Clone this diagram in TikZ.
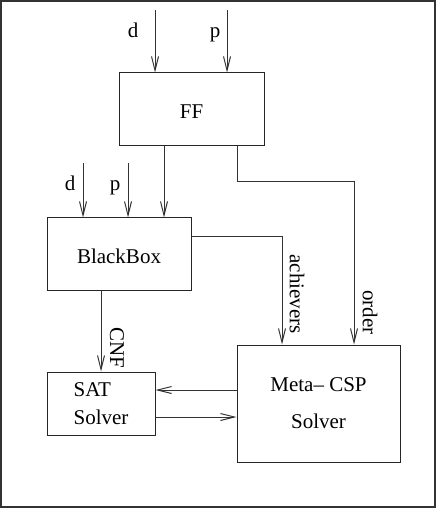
\documentclass[tikz,border=0pt]{standalone}
\usepackage{fontspec}
\setmainfont{Liberation Serif}
\usetikzlibrary{arrows.meta}
\begin{document}
\begin{tikzpicture}[x=1pt,y=-1pt,
  every node/.style={font=\fontsize{21}{28}\selectfont, inner sep=0pt},
  box/.style={draw, line width=1pt, color=black!85},
  conn/.style={line width=1pt, color=black!80},
  arr/.style={conn, -{Straight Barb[length=14pt,width=7pt]}},
  vlabel/.style={rotate=-90, text=black}]
\useasboundingbox (0,0) rectangle (438,510);
\draw[line width=2pt, black!80] (1,1) rectangle (435,507);
% boxes
\node[box, minimum width=145pt, minimum height=73pt, text=black, text height=19pt] (FF) at (191.5,109.5) {FF};
\node[box, minimum width=144pt, minimum height=72pt, text=black, text height=19pt] (BB) at (119,254) {BlackBox};
\node[box, minimum width=108pt, minimum height=63pt, align=left, text=black] (SAT) at (101,403.5) {SAT\\Solver};
\node[box, minimum width=163pt, minimum height=117pt, align=center, text=black] (Meta) at (318.5,403.5) {Meta-- CSP\\[9pt]Solver};
% inputs
\coordinate (d1) at (155,10);
\coordinate (p1) at (227,10);
\coordinate (d2) at (83,163);
\coordinate (p2) at (128,163);
\node[anchor=base] (ld1) at (133,38) {d};
\node[anchor=base] (lp1) at (215,38) {p};
\node[anchor=base] (ld2) at (70,191) {d};
\node[anchor=base] (lp2) at (115,191) {p};
\draw[arr] (d1) -- (d1 |- FF.north);
\draw[arr] (p1) -- (p1 |- FF.north);
\draw[arr] (d2) -- (d2 |- BB.north);
\draw[arr] (p2) -- (p2 |- BB.north);
% FF outputs
\draw[arr] (164,0 |- FF.south) -- (164,0 |- BB.north);
\draw[arr] (237,0 |- FF.south) -- (237,182) -- (354,182) -- (354,0 |- Meta.north);
\node[vlabel] (lorder) at (370,312.5) {order};
% BlackBox outputs
\draw[arr] (BB.east |- 0,236) -- (282,236) -- (282,0 |- Meta.north);
\node[vlabel] (lach) at (297,294) {achievers};
\draw[arr] (SAT.north |- BB.south) -- (SAT.north);
\node[vlabel] (lcnf) at (117,347.5) {CNF};
% SAT <-> Meta
\draw[arr] (Meta.west |- 0,390) -- (SAT.east |- 0,390);
\draw[arr] (SAT.east |- 0,417) -- (Meta.west |- 0,417);
\end{tikzpicture}
\end{document}
